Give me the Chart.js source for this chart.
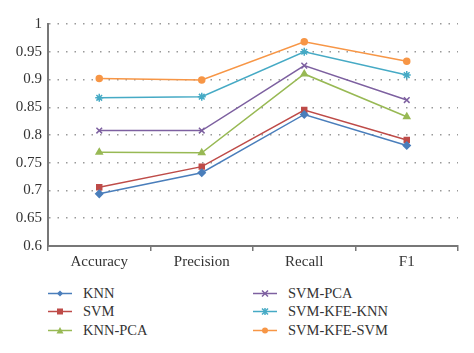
<!DOCTYPE html>
<html>
<head>
<meta charset="utf-8">
<script src="https://cdn.jsdelivr.net/npm/chart.js@4"></script>
<style>
  body { margin: 0; background: #fff; width: 474px; height: 353px; overflow: hidden; }
  #wrap { position: relative; width: 474px; height: 280px; }
  #legend { position: absolute; top: 284px; left: 48px; display: grid;
    grid-template-columns: 205px 200px; row-gap: 0; font-family: "Liberation Serif", serif;
    font-size: 14.5px; color: #333; }
  .item { display: flex; align-items: center; height: 18.5px; }
  .item svg { margin-right: 11px; }
</style>
</head>
<body>
<div id="wrap"><canvas id="chart" width="474" height="280"></canvas></div>
<div id="legend"></div>
<script>
const CATEGORIES = ["Accuracy", "Precision", "Recall", "F1"];
const Y_TICKS = [0.6, 0.65, 0.7, 0.75, 0.8, 0.85, 0.9, 0.95, 1];

const KNN = [0.694, 0.732, 0.837, 0.781];
const SVM = [0.706, 0.743, 0.845, 0.791];
const KNN_PCA = [0.769, 0.768, 0.910, 0.833];
const SVM_PCA = [0.808, 0.808, 0.925, 0.863];
const SVM_KFE_KNN = [0.867, 0.869, 0.950, 0.908];
const SVM_KFE_SVM = [0.902, 0.899, 0.968, 0.933];

const series = [
  { label: "KNN", data: KNN, color: "#4a7ebb", style: "rectRot", r: 3.5 },
  { label: "SVM", data: SVM, color: "#be4b48", style: "rect", r: 3.5 },
  { label: "KNN-PCA", data: KNN_PCA, color: "#98b954", style: "triangle", r: 3.5 },
  { label: "SVM-PCA", data: SVM_PCA, color: "#7d60a0", style: "crossRot", r: 4 },
  { label: "SVM-KFE-KNN", data: SVM_KFE_KNN, color: "#46aac5", style: "star", r: 4 },
  { label: "SVM-KFE-SVM", data: SVM_KFE_SVM, color: "#f79646", style: "circle", r: 3 },
];

const serif = "'Liberation Serif', 'DejaVu Serif', serif";

new Chart(document.getElementById("chart"), {
  type: "line",
  data: {
    labels: CATEGORIES,
    datasets: series.map((s) => ({
      label: s.label,
      data: s.data,
      borderColor: s.color,
      backgroundColor: s.color,
      borderWidth: 1.5,
      pointStyle: s.style,
      pointRadius: s.r,
      pointBorderWidth: 1.5,
      tension: 0,
    })),
  },
  options: {
    responsive: false,
    animation: false,
    layout: { padding: { top: 24, right: 16, left: 0, bottom: 0 } },
    plugins: {
      legend: { display: false },
      tooltip: { enabled: false },
    },
    scales: {
      x: {
        offset: true,
        afterFit: (s) => { s.height = 34; },
        grid: {
          offset: true,
          drawOnChartArea: false,
          drawTicks: true,
          tickLength: 5,
          color: "#777",
          lineWidth: 1.5,
        },
        border: { color: "#777", width: 2 },
        ticks: { color: "#333", font: { family: serif, size: 15 }, padding: 2 },
      },
      y: {
        min: 0.6,
        max: 1,
        afterFit: (s) => { s.width = 48; },
        afterBuildTicks: (s) => { s.ticks = Y_TICKS.map((v) => ({ value: v })); },
        grid: {
          color: "#999",
          lineWidth: 1.5,
          tickLength: 0,
        },
        border: { color: "#777", width: 2, dash: [1.5, 7] },
        ticks: {
          color: "#333",
          font: { family: serif, size: 15 },
          padding: 6,
          callback: (v) => String(Math.round(v * 100) / 100),
        },
      },
    },
  },
});

// legend in two columns, filled column by column
const legend = document.getElementById("legend");
const order = [0, 3, 1, 4, 2, 5];
order.forEach((i) => {
  const s = series[i];
  let marker = "";
  const c = s.color;
  if (s.style === "rectRot") marker = `<polygon points="12,1.5 15,4.5 12,7.5 9,4.5" fill="${c}"/>`;
  if (s.style === "rect") marker = `<rect x="9" y="1.5" width="6" height="6" fill="${c}"/>`;
  if (s.style === "triangle") marker = `<polygon points="12,1 15.5,7.5 8.5,7.5" fill="${c}"/>`;
  if (s.style === "crossRot") marker = `<path d="M9,1.5 L15,7.5 M15,1.5 L9,7.5" stroke="${c}" stroke-width="1.5"/>`;
  if (s.style === "star") marker = `<path d="M9,1.5 L15,7.5 M15,1.5 L9,7.5 M12,1 L12,8" stroke="${c}" stroke-width="1.5"/>`;
  if (s.style === "circle") marker = `<circle cx="12" cy="4.5" r="3" fill="${c}"/>`;
  const el = document.createElement("div");
  el.className = "item";
  el.innerHTML = `<svg width="24" height="9"><line x1="0" y1="4.5" x2="24" y2="4.5" stroke="${c}" stroke-width="1.5"/>${marker}</svg><span>${s.label}</span>`;
  legend.appendChild(el);
});
</script>
</body>
</html>
